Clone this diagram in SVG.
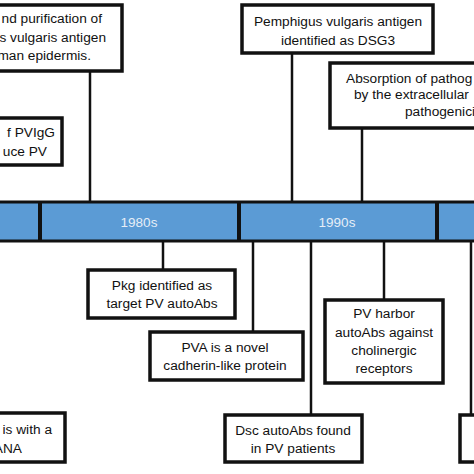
<svg xmlns="http://www.w3.org/2000/svg" width="474" height="474" viewBox="0 0 474 474">
<style>
.box{fill:#fff;stroke:#111;stroke-width:3.5}
.t{font-family:"Liberation Sans",Arial,sans-serif;font-size:13.7px;fill:#111}
.c{text-anchor:middle}
.e{text-anchor:end}
.conn line{stroke:#111;stroke-width:2.5}
.bar{fill:#5b9bd5;stroke:#111;stroke-width:3}
.yr{font-family:"Liberation Sans",Arial,sans-serif;font-size:13.5px;fill:#e6eef7;text-anchor:middle}
</style>
<rect width="474" height="474" fill="#fff"/>
<g id="connectors" class="conn">
<line x1="90" y1="71" x2="90" y2="202"/>
<line x1="292" y1="53" x2="292" y2="202"/>
<line x1="362" y1="128" x2="362" y2="202"/>
<line x1="163" y1="242" x2="163" y2="270"/>
<line x1="253" y1="242" x2="253" y2="332"/>
<line x1="384" y1="242" x2="384" y2="300"/>
<line x1="311" y1="242" x2="311" y2="415"/>
<line x1="471" y1="242" x2="471" y2="415"/>
</g>
<g id="timeline">
<rect class="bar" x="-5" y="202" width="485" height="39"/>
<line x1="40" y1="202" x2="40" y2="241" stroke="#111" stroke-width="4"/>
<line x1="239" y1="202" x2="239" y2="241" stroke="#111" stroke-width="4"/>
<line x1="437" y1="202" x2="437" y2="241" stroke="#111" stroke-width="4"/>
<text class="yr" x="139" y="227">1980s</text>
<text class="yr" x="337" y="227">1990s</text>
</g>
<g id="n1">
<rect class="box" x="-10" y="5" width="132" height="66"/>
<text class="t e" x="102" y="23">nd purification of</text>
<text class="t e" x="106" y="42">s vulgaris antigen</text>
<text class="t e" x="91" y="60">man epidermis.</text>
</g>
<g id="n2">
<rect class="box" x="242" y="5" width="191" height="48"/>
<text class="t c" x="338" y="26">Pemphigus vulgaris antigen</text>
<text class="t c" x="338" y="45">identified as DSG3</text>
</g>
<g id="n3">
<rect class="box" x="330" y="63" width="160" height="65"/>
<text class="t" x="346" y="83">Absorption of pathog</text>
<text class="t" x="354" y="99">by the extracellular</text>
<text class="t" x="405" y="116">pathogenici</text>
</g>
<g id="n4">
<rect class="box" x="-10" y="118" width="72" height="47"/>
<text class="t e" x="55" y="137">f PVIgG</text>
<text class="t e" x="47" y="156">uce PV</text>
</g>
<g id="n5">
<rect class="box" x="88" y="270" width="147" height="48"/>
<text class="t c" x="162" y="290">Pkg identified as</text>
<text class="t c" x="162" y="308">target PV autoAbs</text>
</g>
<g id="n6">
<rect class="box" x="150" y="332" width="153" height="48"/>
<text class="t c" x="225" y="352">PVA is a novel</text>
<text class="t c" x="225" y="370">cadherin-like protein</text>
</g>
<g id="n7">
<rect class="box" x="325" y="300" width="118" height="83"/>
<text class="t c" x="384" y="318">PV harbor</text>
<text class="t c" x="384" y="337">autoAbs against</text>
<text class="t c" x="384" y="355">cholinergic</text>
<text class="t c" x="384" y="373">receptors</text>
</g>
<g id="n8">
<rect class="box" x="225" y="415" width="137" height="47"/>
<text class="t c" x="293" y="435">Dsc autoAbs found</text>
<text class="t c" x="293" y="453">in PV patients</text>
</g>
<g id="n9">
<rect class="box" x="-10" y="413" width="75" height="49"/>
<text class="t e" x="52" y="434">is with a</text>
<text class="t e" x="22" y="453">ANA</text>
</g>
<g id="n10">
<rect class="box" x="460" y="415" width="30" height="47"/>
</g>
</svg>
